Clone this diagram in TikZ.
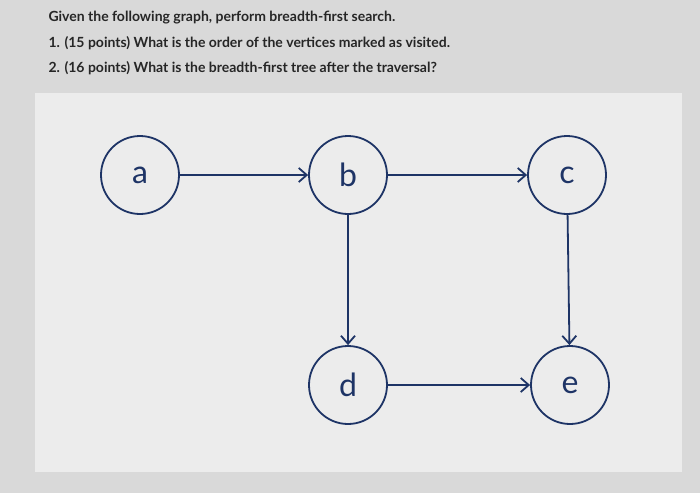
\documentclass[tikz,border=0pt]{standalone}
\usepackage{fontspec}
\setmainfont{Lato}
\usetikzlibrary{arrows.meta}
\definecolor{ink}{HTML}{1E3466}
\definecolor{bg}{HTML}{D9D9D9}
\definecolor{panel}{HTML}{ECECEC}
\tikzset{
  vert/.style={circle,draw=ink,line width=1.8pt,minimum size=78pt,inner sep=0pt,font=\fontsize{32}{32}\selectfont,text=ink},
  edge/.style={draw=ink,line width=1.8pt,-{Straight Barb[length=8pt,width=14pt]}},
  q/.style={anchor=west,font=\fontsize{14}{16}\selectfont\bfseries,text=black!85}
}
\begin{document}
\begin{tikzpicture}[x=1pt,y=-1pt]
\fill[bg] (0,0) rectangle (700,493);
\useasboundingbox (0,0) rectangle (700,493);
\fill[panel] (35,93) rectangle (682,472);
\node[q] (t1) at (45,18) {Given the following graph, perform breadth-first search.};
\node[q] (t2) at (45,43) {1. (15 points) What is the order of the vertices marked as visited.};
\node[q] (t3) at (45,68) {2. (16 points) What is the breadth-first tree after the traversal?};
\node[vert] (a) at (140,175) {a};
\node[vert] (b) at (348,175) {b};
\node[vert] (c) at (567,175) {c};
\node[vert] (d) at (348,385) {d};
\node[vert] (e) at (570,385) {e};
\draw[edge] (a) -- (b);
\draw[edge] (b) -- (c);
\draw[edge] (b) -- (d);
\draw[edge] (c) -- (e);
\draw[edge] (d) -- (e);
\end{tikzpicture}
\end{document}
